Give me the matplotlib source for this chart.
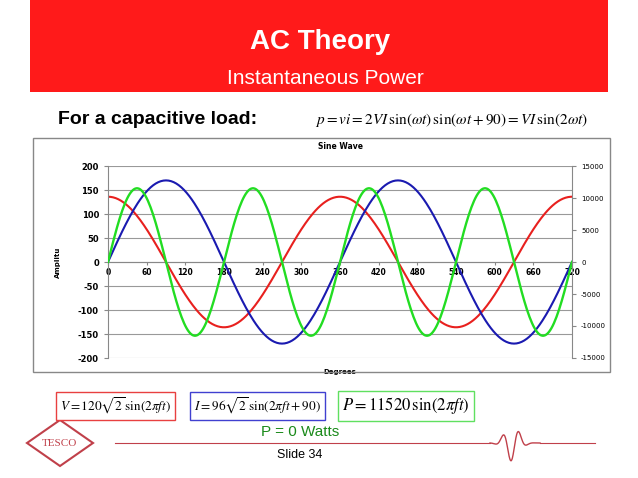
import numpy as np
import matplotlib.pyplot as plt
from matplotlib.patches import Rectangle, Polygon

plt.rcParams['axes.unicode_minus'] = False

# chart values
degrees = np.arange(0, 721, 2)
v_peak = 136      # red, cosine
i_peak = 170      # blue, sine
p_peak = 11520    # green, right axis
left_ticks = [200, 150, 100, 50, 0, -50, -100, -150, -200]
right_ticks = [15000, 10000, 5000, 0, -5000, -10000, -15000]
x_ticks = list(range(0, 721, 60))

rad = np.deg2rad(degrees)
red = v_peak * np.cos(rad)
blue = i_peak * np.sin(rad)
green = p_peak * np.sin(2 * rad)

W, H = 638, 478
fig = plt.figure(figsize=(6.38, 4.78), dpi=100)


def fx(px):
    return px / W


def fy(py):
    return 1 - py / H


# red title band
band = fig.add_axes([fx(30), fy(92), fx(578), 92 / H])
band.set_facecolor('#ff1a1a')
band.set_xticks([])
band.set_yticks([])
for s in band.spines.values():
    s.set_visible(False)
fig.text(fx(320), fy(42), "AC Theory", color='white', fontsize=20, fontweight='bold',
         ha='center', va='center', family='Liberation Sans')
fig.text(fx(325), fy(78), "Instantaneous Power", color='white', fontsize=15,
         ha='center', va='center', family='Liberation Sans')

fig.text(fx(58), fy(120), "For a capacitive load:", fontsize=14, fontweight='bold',
         ha='left', va='center', family='Liberation Sans')
fig.text(fx(315), fy(120), r"$p=vi=2VI\,\sin(\omega t)\,\sin(\omega t+90)=VI\,\sin(2\omega t)$",
         fontsize=11, ha='left', va='center', math_fontfamily='stix')

# chart frame
fig.patches.append(Rectangle((fx(33), fy(372)), fx(577), 234 / H, transform=fig.transFigure,
                             fill=False, edgecolor='#888888', linewidth=1))

ax = fig.add_axes([fx(108), fy(358), fx(464), 192 / H])
ax.plot(degrees, red, color='#e8201e', linewidth=1.5)
ax.plot(degrees, blue, color='#1a1ab0', linewidth=1.5)
ax2 = ax.twinx()
ax2.plot(degrees, green, color='#22dd22', linewidth=1.7)
ax.set_xlim(0, 720)
ax.set_ylim(-200, 200)
ax2.set_ylim(-15000, 15000)
ax.set_yticks(left_ticks)
ax2.set_yticks(right_ticks)
ax.grid(axis='y', color='#999999', linewidth=0.8)
for a in (ax, ax2):
    for s in a.spines.values():
        s.set_visible(False)
ax.spines['left'].set_visible(True)
ax2.spines['right'].set_visible(True)
ax.spines['left'].set_color('#888888')
ax2.spines['right'].set_color('#888888')
ax.spines['bottom'].set_position(('data', 0))
ax.spines['bottom'].set_visible(True)
ax.spines['bottom'].set_color('#888888')
ax.set_xticks(x_ticks)
ax.tick_params(axis='x', labelsize=5.5, length=2, color='#888888', pad=2)
for t in ax.get_xticklabels():
    t.set_fontweight('bold')
ax.tick_params(axis='y', labelsize=6, length=3, color='#888888')
for t in ax.get_yticklabels():
    t.set_fontweight('bold')
ax2.tick_params(axis='y', labelsize=5, length=3, color='#888888')
ax.set_ylabel("Amplitu", fontsize=5, fontweight='bold', labelpad=12)
ax.text(0.5, -0.055, "Degrees", transform=ax.transAxes, fontsize=5, fontweight='bold',
        ha='center', va='top')
ax.set_title("Sine Wave", fontsize=5.5, fontweight='bold', pad=12)

# formula boxes
fig.text(fx(60), fy(406), r"$V=120\sqrt{2}\,\sin(2\pi ft)$", fontsize=9.5, ha='left', va='center',
         math_fontfamily='stix', bbox=dict(facecolor='white', edgecolor='#e84040', pad=3))
fig.text(fx(194), fy(406), r"$I=96\sqrt{2}\,\sin(2\pi ft+90)$", fontsize=9.5, ha='left', va='center',
         math_fontfamily='stix', bbox=dict(facecolor='white', edgecolor='#4040d0', pad=3))
fig.text(fx(342), fy(406), r"$P=11520\,\sin(2\pi ft)$", fontsize=12, ha='left', va='center',
         math_fontfamily='stix', bbox=dict(facecolor='white', edgecolor='#60e060', pad=3))
fig.text(fx(300), fy(432), "P = 0 Watts", color='#1a8a1a', fontsize=11, ha='center', va='center',
         family='Liberation Sans')
fig.text(fx(300), fy(455), "Slide 34", fontsize=9, ha='center', va='center', family='Liberation Sans')

# footer line and logo
fig.add_artist(plt.Line2D([fx(115), fx(490)], [fy(443), fy(443)], color='#c0404a', linewidth=0.8))
fig.add_artist(plt.Line2D([fx(540), fx(595)], [fy(443), fy(443)], color='#c0404a', linewidth=0.8))
fig.patches.append(Polygon([(fx(27), fy(443)), (fx(60), fy(420)), (fx(93), fy(443)), (fx(60), fy(466))],
                           closed=True, transform=fig.transFigure, fill=False, edgecolor='#c0404a', linewidth=1.5))
fig.text(fx(60), fy(443), "TESCO", color='#c0404a', fontsize=8, ha='center', va='center',
         family='Liberation Serif')
wx = np.linspace(490, 540, 200)
wy = 443 + 18 * np.sin((wx - 490) / 50 * 6 * np.pi) * np.exp(-((wx - 512) / 10) ** 2)
fig.add_artist(plt.Line2D(fx(wx), fy(wy), color='#c0404a', linewidth=1))

fig.savefig("out.png", dpi=100)
